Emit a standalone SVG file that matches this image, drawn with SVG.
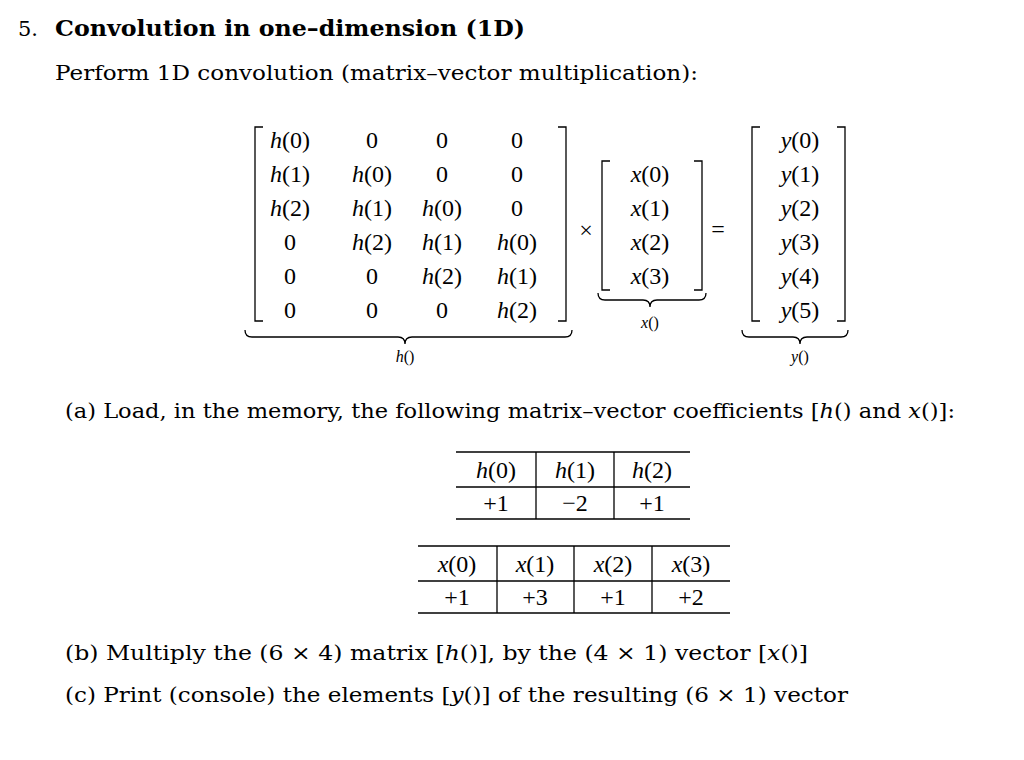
<svg xmlns="http://www.w3.org/2000/svg" width="1024" height="760" viewBox="0 0 1024 760">
<style>
text{font-family:"Liberation Serif","DejaVu Serif",serif;font-size:24px;fill:#000}
.p{font-family:"DejaVu Serif","Liberation Serif",serif;font-size:21px}
.m{text-anchor:middle}
.s{font-size:16px}
.b{font-family:"DejaVu Serif","Liberation Serif",serif;font-weight:bold;font-size:22px}
path,line{stroke:#000;stroke-width:1.3;fill:none}
</style>
<rect width="1024" height="760" fill="#fff"/>
<text x="18" y="36" class="p">5.</text>
<text x="55" y="36" class="b" textLength="470" lengthAdjust="spacingAndGlyphs">Convolution in one–dimension (1D)</text>
<text x="55" y="80" class="p" textLength="643" lengthAdjust="spacingAndGlyphs">Perform 1D convolution (matrix–vector multiplication):</text>
<g id="matrixH">
<path d="M263,127 H255 V321 H263"/><path d="M558,127 H566 V321 H558"/>
<text x="290" y="148" class="m"><tspan font-style="italic">h</tspan>(0)</text><text x="372" y="148" class="m">0</text><text x="442" y="148" class="m">0</text><text x="517" y="148" class="m">0</text>
<text x="290" y="182" class="m"><tspan font-style="italic">h</tspan>(1)</text><text x="372" y="182" class="m"><tspan font-style="italic">h</tspan>(0)</text><text x="442" y="182" class="m">0</text><text x="517" y="182" class="m">0</text>
<text x="290" y="216" class="m"><tspan font-style="italic">h</tspan>(2)</text><text x="372" y="216" class="m"><tspan font-style="italic">h</tspan>(1)</text><text x="442" y="216" class="m"><tspan font-style="italic">h</tspan>(0)</text><text x="517" y="216" class="m">0</text>
<text x="290" y="250" class="m">0</text><text x="372" y="250" class="m"><tspan font-style="italic">h</tspan>(2)</text><text x="442" y="250" class="m"><tspan font-style="italic">h</tspan>(1)</text><text x="517" y="250" class="m"><tspan font-style="italic">h</tspan>(0)</text>
<text x="290" y="284" class="m">0</text><text x="372" y="284" class="m">0</text><text x="442" y="284" class="m"><tspan font-style="italic">h</tspan>(2)</text><text x="517" y="284" class="m"><tspan font-style="italic">h</tspan>(1)</text>
<text x="290" y="318" class="m">0</text><text x="372" y="318" class="m">0</text><text x="442" y="318" class="m">0</text><text x="517" y="318" class="m"><tspan font-style="italic">h</tspan>(2)</text>
<path d="M245,330 Q245,337 252,337 H398 Q405,337 405,344 Q405,337 412,337 H565 Q572,337 572,330" stroke-width="2"/>
<text x="405" y="362" class="m s"><tspan font-style="italic">h</tspan>()</text>
</g>
<text x="586" y="238" class="m" font-size="30">×</text>
<g id="vectorX">
<path d="M610,161 H602 V290 H610"/><path d="M694,161 H702 V290 H694"/>
<text x="650" y="182" class="m"><tspan font-style="italic">x</tspan>(0)</text>
<text x="650" y="216" class="m"><tspan font-style="italic">x</tspan>(1)</text>
<text x="650" y="250" class="m"><tspan font-style="italic">x</tspan>(2)</text>
<text x="650" y="284" class="m"><tspan font-style="italic">x</tspan>(3)</text>
<path d="M598,293 Q598,300 605,300 H643 Q650,300 650,307 Q650,300 657,300 H699 Q706,300 706,293" stroke-width="2"/>
<text x="650" y="328" class="m s"><tspan font-style="italic">x</tspan>()</text>
</g>
<text x="718" y="237" class="m" font-size="30">=</text>
<g id="vectorY">
<path d="M760,127 H752 V321 H760"/><path d="M837,127 H845 V321 H837"/>
<text x="800" y="148" class="m"><tspan font-style="italic">y</tspan>(0)</text>
<text x="800" y="182" class="m"><tspan font-style="italic">y</tspan>(1)</text>
<text x="800" y="216" class="m"><tspan font-style="italic">y</tspan>(2)</text>
<text x="800" y="250" class="m"><tspan font-style="italic">y</tspan>(3)</text>
<text x="800" y="284" class="m"><tspan font-style="italic">y</tspan>(4)</text>
<text x="800" y="318" class="m"><tspan font-style="italic">y</tspan>(5)</text>
<path d="M742,330 Q742,337 749,337 H793 Q800,337 800,344 Q800,337 807,337 H841 Q848,337 848,330" stroke-width="2"/>
<text x="800" y="362" class="m s"><tspan font-style="italic">y</tspan>()</text>
</g>
<text x="65" y="418" class="p" textLength="890" lengthAdjust="spacingAndGlyphs">(a) Load, in the memory, the following matrix–vector coefficients [<tspan font-style="italic">h</tspan>() and <tspan font-style="italic">x</tspan>()]:</text>
<g id="tableH">
<line x1="456" y1="452" x2="690" y2="452"/><line x1="456" y1="487" x2="690" y2="487"/><line x1="456" y1="519" x2="690" y2="519"/>
<line x1="536" y1="452" x2="536" y2="519"/><line x1="614" y1="452" x2="614" y2="519"/>
<text x="496" y="478" class="m"><tspan font-style="italic">h</tspan>(0)</text><text x="575" y="478" class="m"><tspan font-style="italic">h</tspan>(1)</text><text x="652" y="478" class="m"><tspan font-style="italic">h</tspan>(2)</text>
<text x="496" y="511" class="m">+1</text><text x="575" y="511" class="m">−2</text><text x="652" y="511" class="m">+1</text>
</g>
<g id="tableX">
<line x1="418" y1="546" x2="730" y2="546"/><line x1="418" y1="581" x2="730" y2="581"/><line x1="418" y1="613" x2="730" y2="613"/>
<line x1="497" y1="546" x2="497" y2="613"/><line x1="574" y1="546" x2="574" y2="613"/><line x1="652" y1="546" x2="652" y2="613"/>
<text x="457" y="572" class="m"><tspan font-style="italic">x</tspan>(0)</text><text x="535" y="572" class="m"><tspan font-style="italic">x</tspan>(1)</text><text x="613" y="572" class="m"><tspan font-style="italic">x</tspan>(2)</text><text x="691" y="572" class="m"><tspan font-style="italic">x</tspan>(3)</text>
<text x="457" y="605" class="m">+1</text><text x="535" y="605" class="m">+3</text><text x="613" y="605" class="m">+1</text><text x="691" y="605" class="m">+2</text>
</g>
<text x="65" y="660" class="p" textLength="743" lengthAdjust="spacingAndGlyphs">(b) Multiply the (6 × 4) matrix [<tspan font-style="italic">h</tspan>()], by the (4 × 1) vector [<tspan font-style="italic">x</tspan>()]</text>
<text x="65" y="702" class="p" textLength="783" lengthAdjust="spacingAndGlyphs">(c) Print (console) the elements [<tspan font-style="italic">y</tspan>()] of the resulting (6 × 1) vector</text>
</svg>
